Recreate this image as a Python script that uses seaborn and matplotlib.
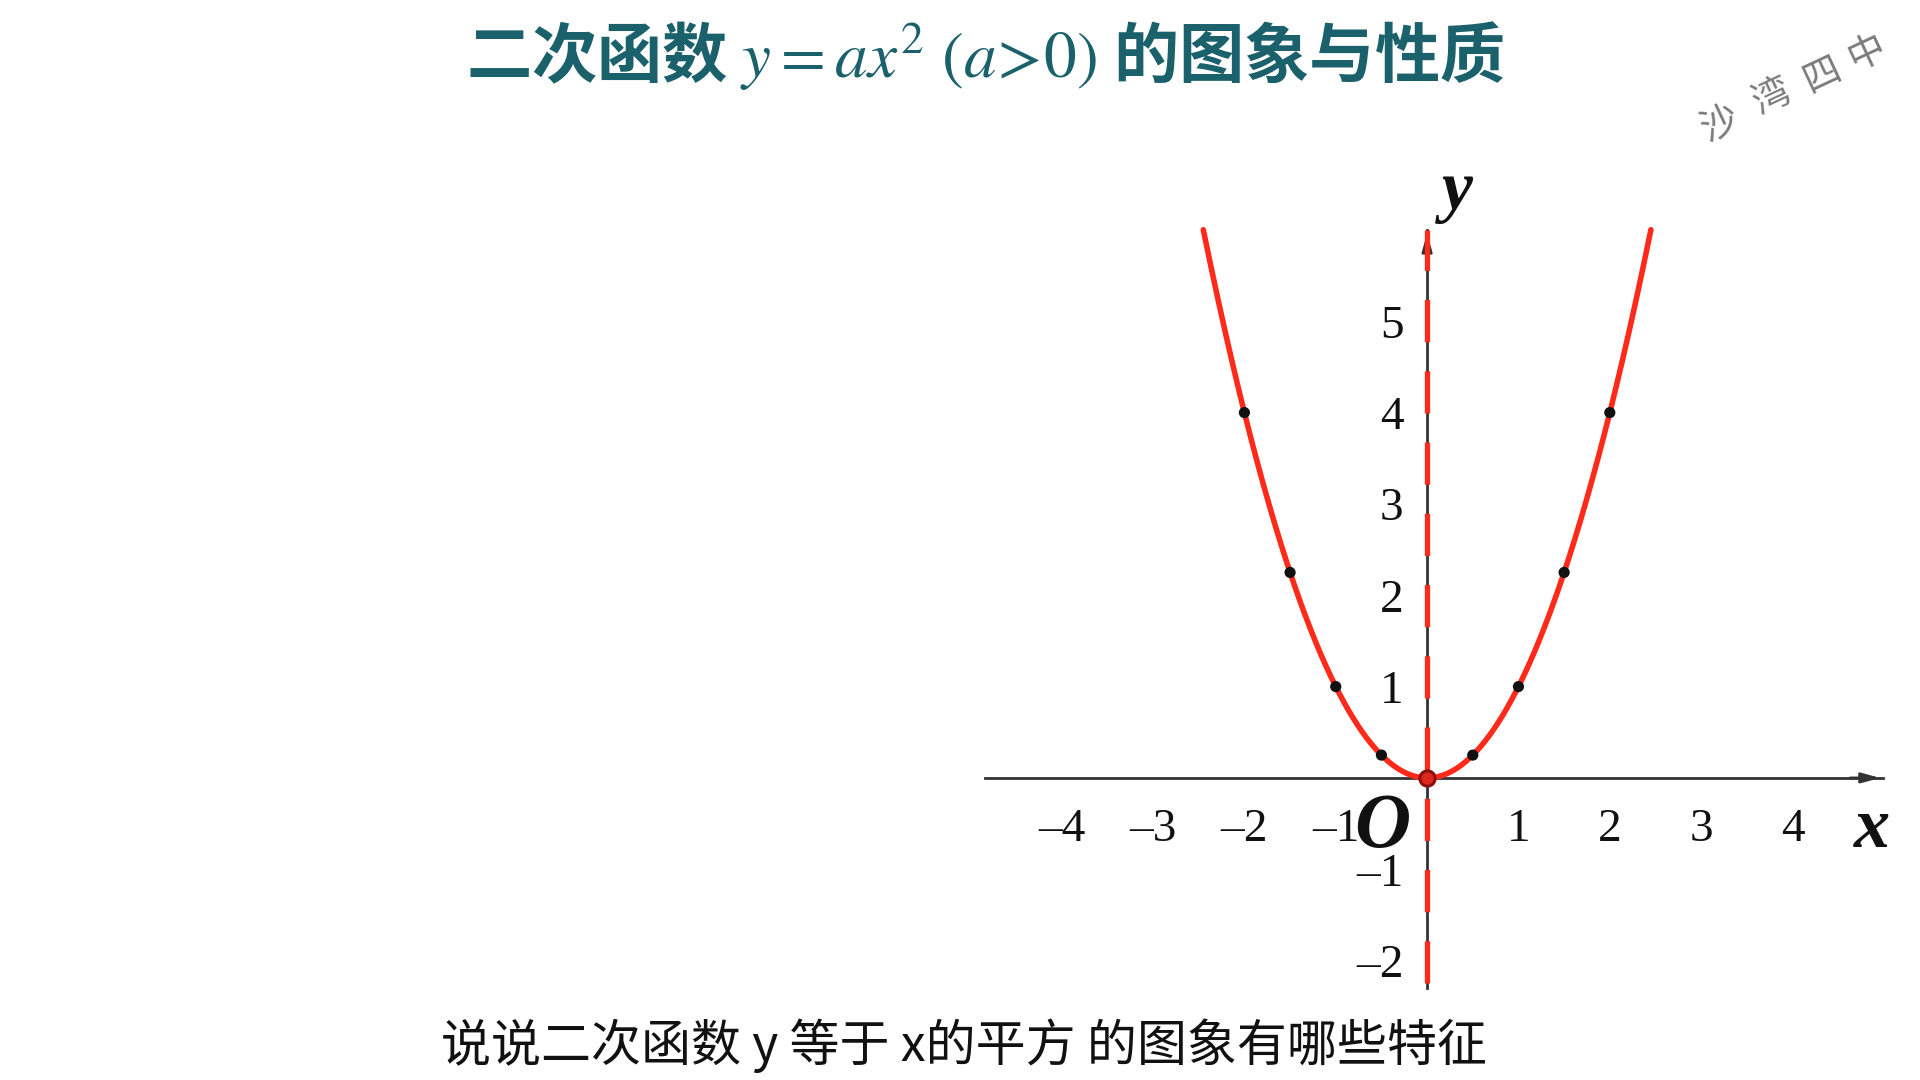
import numpy as np
import pandas as pd
import seaborn as sns
import matplotlib.pyplot as plt

# points marked on the parabola
pt_x = [-2, -1.5, -1, -0.5, 0.5, 1, 1.5, 2]
pt_y = [4, 2.25, 1, 0.25, 0.25, 1, 2.25, 4]
vertex_x = [0]
vertex_y = [0]

# ticks
x_ticks = [-4, -3, -2, -1, 1, 2, 3, 4]
x_labels = ['\u20134', '\u20133', '\u20132', '\u20131', '1', '2', '3', '4']
y_ticks = [-2, -1, 1, 2, 3, 4, 5]
y_labels = ['\u20132', '\u20131', '1', '2', '3', '4', '5']

# drawn branch of y = x^2 (the function named in the title)
curve_x = np.linspace(-2.45, 2.45, 300)
curve = pd.DataFrame({'x': curve_x, 'y': curve_x ** 2})
points = pd.DataFrame({'x': pt_x, 'y': pt_y})

sns.set_style("white")
plt.rcParams['font.family'] = ['Liberation Serif', 'Noto Sans CJK SC', 'DejaVu Sans']
plt.rcParams['mathtext.fontset'] = 'stix'

fig = plt.figure(figsize=(19.2, 10.8), dpi=100)
ax = fig.add_axes([0.5130, 0.0852, 0.4677, 0.7019])
ax.set_xlim(-4.84, 4.99)
ax.set_ylim(-2.3, 6.0)

# axes through the origin
for side in ['top', 'right']:
    ax.spines[side].set_visible(False)
for side in ['left', 'bottom']:
    ax.spines[side].set_position(('data', 0))
    ax.spines[side].set_color('#333333')
    ax.spines[side].set_linewidth(2)
ax.set_xticks(x_ticks, x_labels)
ax.set_yticks(y_ticks, y_labels)
ax.tick_params(axis='both', direction='in', length=9.5, width=1.6,
               color='#333333', labelsize=34, labelcolor='#111111')
ax.tick_params(axis='x', pad=22)
ax.tick_params(axis='y', pad=17)
ax.grid(False)

arrow = dict(arrowstyle='-|>,head_length=1.1,head_width=0.3', color='#333333', lw=2)
ax.annotate('', xy=(4.99, 0), xytext=(4.6, 0), arrowprops=arrow, annotation_clip=False)
ax.annotate('', xy=(0, 6.0), xytext=(0, 5.6), arrowprops=arrow, annotation_clip=False)

# axis of symmetry
ax.plot([0, 0], [-2.25, 6.0], color='#ff2a1a', lw=3.8, dashes=(8, 5.5), zorder=4, clip_on=False)

sns.lineplot(data=curve, x='x', y='y', ax=ax, color='#ff2a1a', lw=4, sort=False, zorder=5)
ax.lines[-1].set_clip_on(False)
sns.scatterplot(data=points, x='x', y='y', ax=ax, color='#111111', s=65, zorder=6, edgecolor='none')
ax.plot(vertex_x, vertex_y, 'o', ms=11, mfc='#e0281a', mec='#8a1010', mew=2.2, zorder=7)
ax.set_xlabel('')
ax.set_ylabel('')

ax.text(-0.49, -0.55, 'O', fontsize=56, fontweight='bold', fontstyle='italic',
        ha='center', va='center', color='#111111')
ax.text(0.33, 6.42, 'y', fontsize=50, fontweight='bold', fontstyle='italic',
        ha='center', va='center', color='#111111', clip_on=False)
ax.text(4.87, -0.57, 'x', fontsize=52, fontweight='bold', fontstyle='italic',
        ha='center', va='center', color='#111111', clip_on=False)

# title
fig.text(0.513, 0.949, '二次函数 $y = ax^2\\ (a\\!>\\!0)$ 的图象与性质',
         family=['Noto Sans CJK SC', 'DejaVu Sans'], fontsize=47, fontweight='heavy',
         color='#1b616c', ha='center', va='center')

# watermark
wm_chars = ['沙', '湾', '四', '中']
wm_pos = [(1720, 123), (1772, 97), (1822, 75), (1867, 53)]
for ch, (px, py) in zip(wm_chars, wm_pos):
    fig.text(px / 1920, 1 - py / 1080, ch, family=['Noto Sans CJK SC'], fontsize=27,
             fontweight='medium', color='#7c7c7c', rotation=25, ha='center', va='center')

# caption
fig.text(0.502, 0.032, '说说二次函数 y 等于 x的平方 的图象有哪些特征',
         family=['Noto Sans CJK SC', 'DejaVu Sans'], fontsize=36, color='#111111',
         ha='center', va='center')

plt.savefig('out.png', dpi=100)
